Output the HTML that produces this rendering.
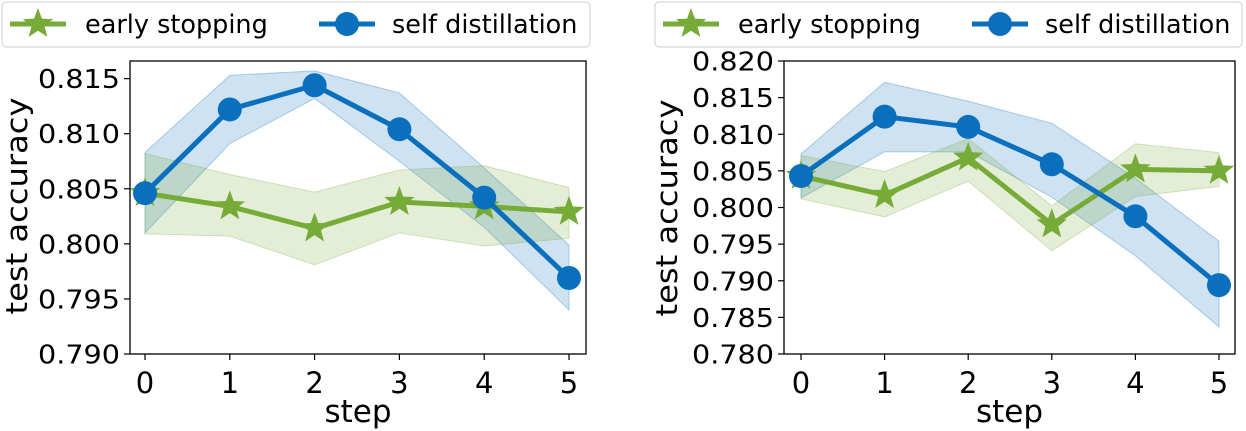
<!DOCTYPE html>
<html><head><meta charset="utf-8">
<style>
html,body{margin:0;padding:0;background:#fff;}
svg{display:block;font-family:"DejaVu Sans","Liberation Sans",sans-serif;}
</style></head>
<body>
<svg id="chart" width="1246" height="431" viewBox="0 0 1246 431" xmlns="http://www.w3.org/2000/svg"></svg>
<script>
const steps = [0,1,2,3,4,5];
const leftSD = [0.8046,0.8122,0.8144,0.8104,0.8042,0.7969];
const leftSDUp = [0.8083,0.8153,0.8157,0.8137,0.8069,0.7999];
const leftSDLo = [0.8010,0.8091,0.8132,0.8075,0.8015,0.7940];
const leftES = [0.8046,0.8034,0.8014,0.8038,0.8034,0.8029];
const leftESUp = [0.8082,0.8063,0.8047,0.8067,0.8071,0.8051];
const leftESLo = [0.8009,0.8007,0.7981,0.8010,0.7998,0.8005];
const leftTicks = [0.790,0.795,0.800,0.805,0.810,0.815];
const rightSD = [0.8043,0.8124,0.8110,0.8059,0.7988,0.7894];
const rightSDUp = [0.8073,0.8171,0.8145,0.8115,0.8040,0.7954];
const rightSDLo = [0.8013,0.8076,0.8076,0.8014,0.7934,0.7837];
const rightES = [0.8043,0.8017,0.8068,0.7977,0.8052,0.8050];
const rightESUp = [0.8071,0.8049,0.8094,0.8002,0.8087,0.8075];
const rightESLo = [0.8012,0.7987,0.8036,0.7941,0.8015,0.8029];
const rightTicks = [0.780,0.785,0.790,0.795,0.800,0.805,0.810,0.815,0.820];

const NS="http://www.w3.org/2000/svg";
const svg=document.getElementById('chart');
const BLUE="#0a6fbd", GREEN="#77ab38";
function mk(tag,attrs,parent){const e=document.createElementNS(NS,tag);for(const k in attrs)e.setAttribute(k,attrs[k]);(parent||svg).appendChild(e);return e;}
function starPts(cx,cy,R){const r=R*0.42;let p=[];for(let i=0;i<10;i++){const a=-Math.PI/2+i*Math.PI/5;const rr=i%2?r:R;p.push((cx+rr*Math.cos(a)).toFixed(1)+","+(cy+rr*Math.sin(a)).toFixed(1));}return p.join(" ");}

function panel(name,box,ymin,ymax,ticks,sd,sdUp,sdLo,es,esUp,esLo,xs){
  const g=mk('g',{});
  
  
  const X=s=>xs[0]+(xs[1]-xs[0])*s/5;
  const Y=v=>box.b-(v-ymin)/(ymax-ymin)*(box.b-box.t);
  function band(up,lo,col,nm){
    let d="M"+steps.map(s=>X(s)+","+Y(up[s])).join("L")+"L"+steps.slice().reverse().map(s=>X(s)+","+Y(lo[s])).join("L")+"Z";
    const p=mk('path',{d:d,fill:col,'fill-opacity':0.2,stroke:col,'stroke-opacity':0.3,'stroke-width':1},g);
    
    
  }
  band(sdUp,sdLo,BLUE,'self-distillation-band');
  band(esUp,esLo,GREEN,'early-stopping-band');
  const l1=mk('polyline',{points:steps.map(s=>X(s)+","+Y(es[s])).join(" "),fill:'none',stroke:GREEN,'stroke-width':5,'stroke-linejoin':'round'},g);
  
  
  steps.forEach(s=>{const p=mk('polygon',{points:starPts(X(s),Y(es[s]),16),fill:GREEN},g);
    
    });
  const l2=mk('polyline',{points:steps.map(s=>X(s)+","+Y(sd[s])).join(" "),fill:'none',stroke:BLUE,'stroke-width':5,'stroke-linejoin':'round'},g);
  
  
  steps.forEach(s=>{const c=mk('circle',{cx:X(s),cy:Y(sd[s]),r:12,fill:BLUE},g);
    
    });
  const fr=mk('rect',{x:box.l,y:box.t,width:box.r-box.l,height:box.b-box.t,fill:'none',stroke:'#000','stroke-width':1.3},g);
  
  
  ticks.forEach(v=>{mk('line',{x1:box.l-6,x2:box.l,y1:Y(v),y2:Y(v),stroke:'#000','stroke-width':1.2},g);
    const t=mk('text',{x:box.l-92,y:Y(v)+9.5,'font-size':26,textLength:82,lengthAdjust:'spacingAndGlyphs',fill:'#000'},g);t.textContent=v.toFixed(3);
    
    });
  steps.forEach(s=>{mk('line',{x1:X(s),x2:X(s),y1:box.b,y2:box.b+6,stroke:'#000','stroke-width':1.2},g);
    const t=mk('text',{x:X(s),y:box.b+39,'text-anchor':'middle','font-size':29,fill:'#000'},g);t.textContent=s;
    
    });
  const xt=mk('text',{x:(box.l+box.r)/2,y:box.b+68,'text-anchor':'middle','font-size':31,fill:'#000'},g);xt.textContent='step';
  
  
  const yt=mk('text',{x:-108.5,y:0,'font-size':29,textLength:217,lengthAdjust:'spacingAndGlyphs',fill:'#000',transform:`translate(${box.yl},${box.yc}) rotate(-90)`},g);yt.textContent='test accuracy';
  
  
}
function legend(x,w){
  const g=mk('g',{});
  
  
  mk('rect',{x:x,y:2,width:w,height:45,rx:4,fill:'#fff',stroke:'#ccc','stroke-width':1},g);
  mk('line',{x1:x+8,x2:x+64,y1:24,y2:24,stroke:GREEN,'stroke-width':5},g);
  mk('polygon',{points:starPts(x+36,24,16),fill:GREEN},g);
  const t1=mk('text',{x:x+83,y:33,'font-size':25.5,fill:'#000'},g);t1.textContent='early stopping';
  
  
  mk('line',{x1:x+317,x2:x+373,y1:24,y2:24,stroke:BLUE,'stroke-width':5},g);
  mk('circle',{cx:x+345,cy:24,r:12,fill:BLUE},g);
  const t2=mk('text',{x:x+390,y:33,'font-size':25.5,fill:'#000'},g);t2.textContent='self distillation';
  
  
}
panel('left-panel',{l:130,r:586,t:61,b:354,yl:27,yc:206},0.790,0.8166,leftTicks,leftSD,leftSDUp,leftSDLo,leftES,leftESUp,leftESLo,[145,569]);
panel('right-panel',{l:784,r:1235,t:61,b:354,yl:677,yc:208},0.780,0.820,rightTicks,rightSD,rightSDUp,rightSDLo,rightES,rightESUp,rightESLo,[801,1219]);
legend(2,588);
legend(655,587);
</script>
</body></html>
